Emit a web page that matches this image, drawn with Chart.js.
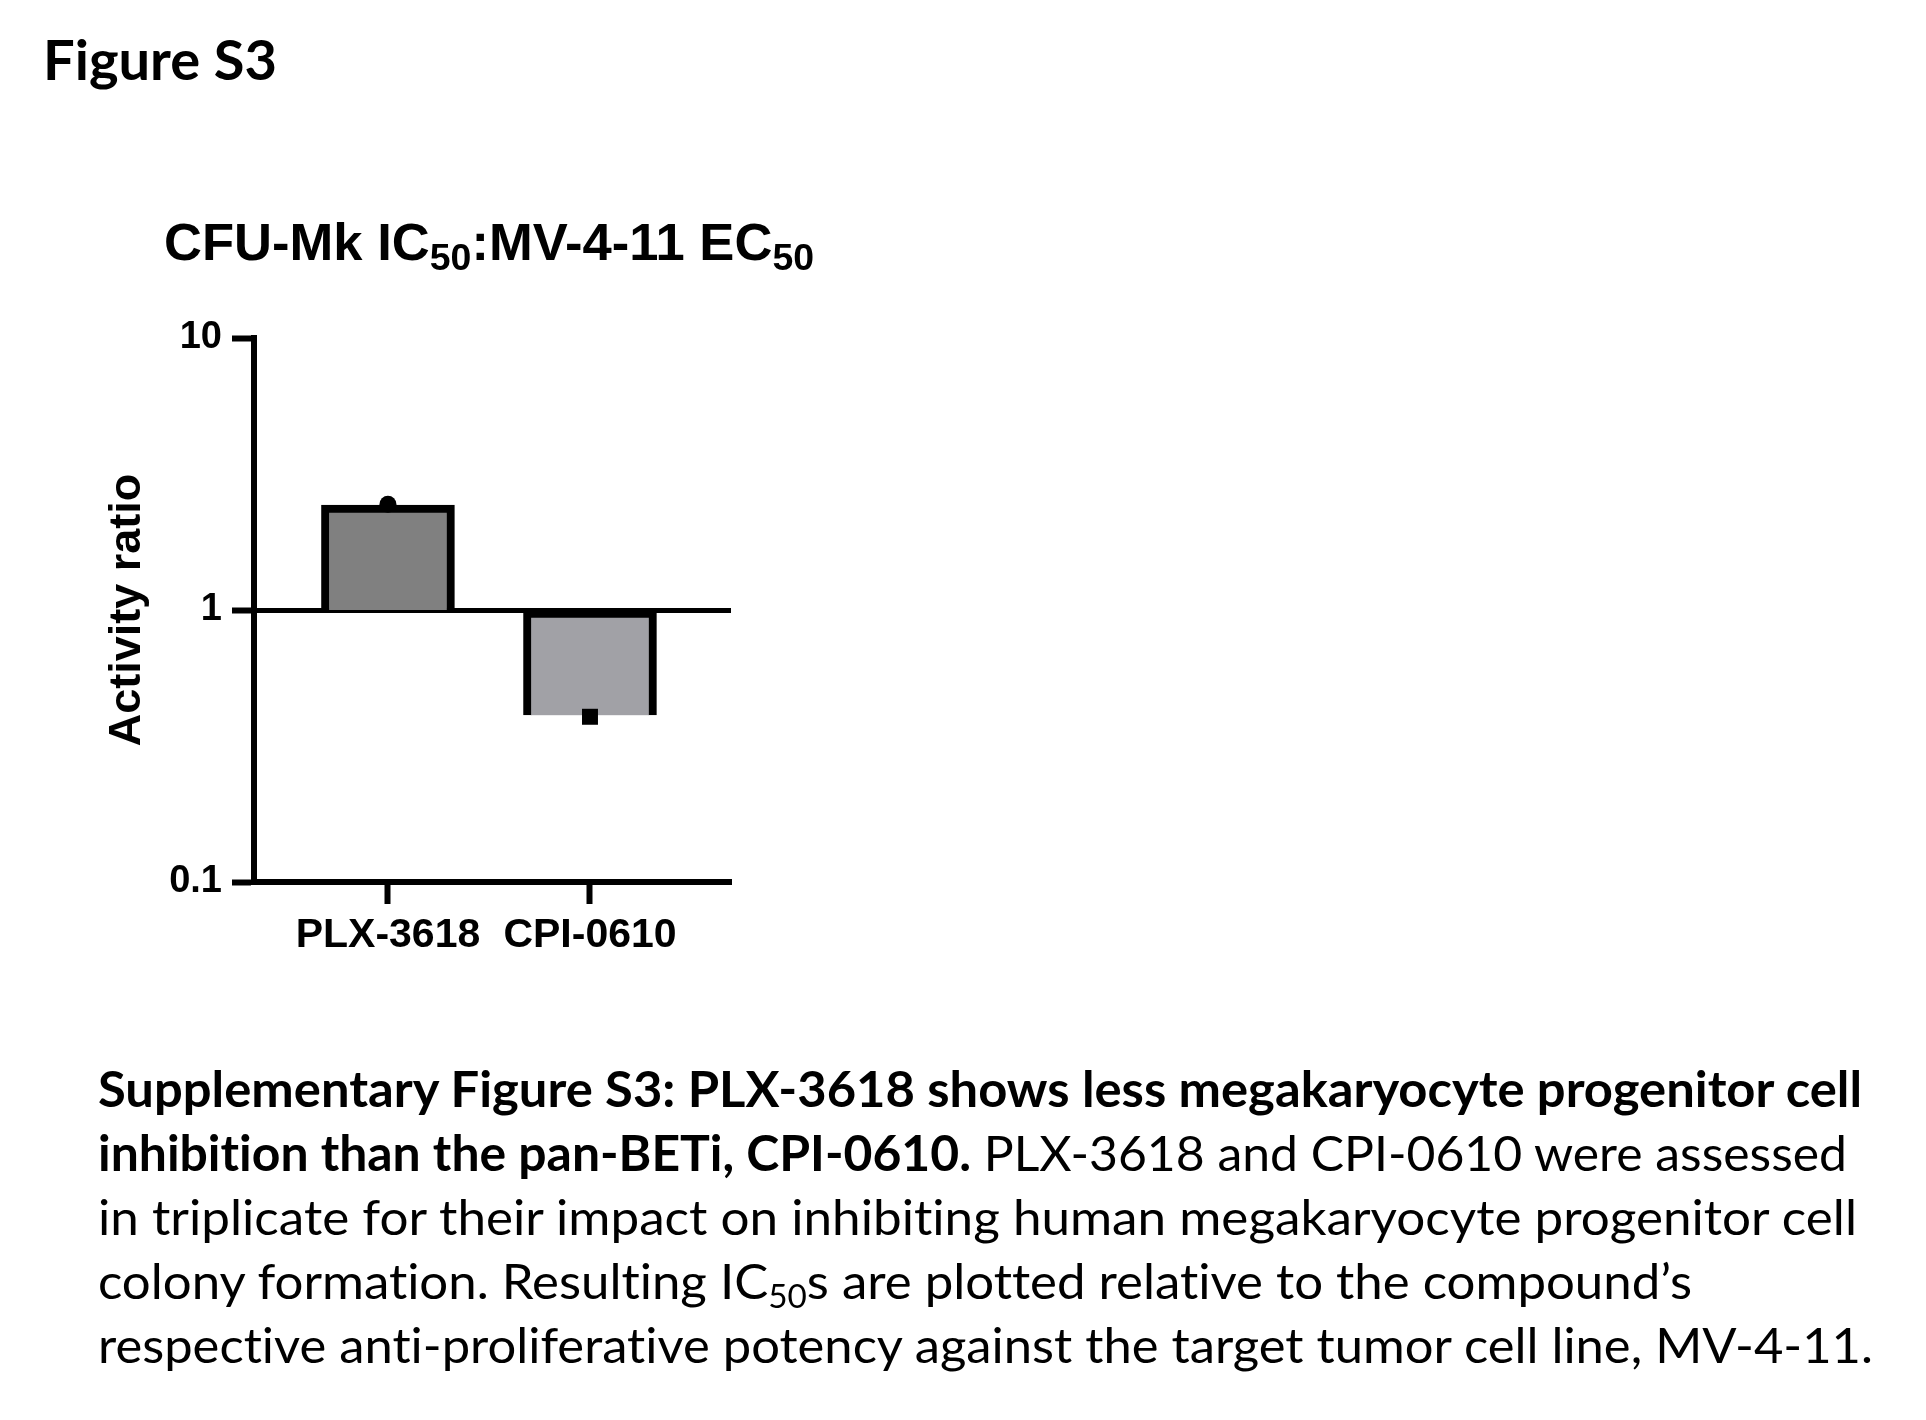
<!DOCTYPE html>
<html>
<head>
<meta charset="utf-8">
<title>Figure S3</title>
<script src="https://cdn.jsdelivr.net/npm/chart.js@4.4.1/dist/chart.umd.min.js"></script>
<style>
    html, body { margin: 0; padding: 0; background: #fff; }
    #page { position: relative; width: 1926px; height: 1420px; overflow: hidden; }
    #chart { position: absolute; left: 0; top: 0; }
    .txt { position: absolute; white-space: nowrap; transform-origin: 0 0; color: #000; line-height: 1; font-variant-ligatures: none; font-feature-settings: "liga" 0, "clig" 0; }
    .cal { font-family: Lato, "Open Sans", sans-serif; }
    .ari { font-family: "Liberation Sans", Arial, sans-serif; font-weight: bold; }
    b { font-weight: bold; }
</style>
</head>
<body>
<div id="page">
    <canvas id="chart" width="1926" height="1420"></canvas>

    <div class="txt cal" id="fig" style="font-size:56px;font-weight:bold">Figure S3</div>

    <div class="txt ari" id="ctitle" style="font-size:52px">CFU-Mk IC<span style="font-size:37px;vertical-align:-10px">50</span>:MV-4-11 EC<span style="font-size:37px;vertical-align:-10px">50</span></div>

    <div class="txt cal cap" style="font-size:49px"><b>Supplementary Figure S3: PLX-3618 shows less megakaryocyte progenitor cell</b></div>
    <div class="txt cal cap" style="font-size:49px"><b>inhibition than the pan-BETi, CPI-0610.</b> PLX-3618 and CPI-0610 were assessed</div>
    <div class="txt cal cap" style="font-size:49px">in triplicate for their impact on inhibiting human megakaryocyte progenitor cell</div>
    <div class="txt cal cap" style="font-size:49px">colony formation. Resulting IC<span style="font-size:32px;vertical-align:-9px">50</span>s are plotted relative to the compound’s</div>
    <div class="txt cal cap" style="font-size:49px">respective anti-proliferative potency against the target tumor cell line, MV-4-11.</div>
</div>

<script>
// 数据
const categories = ['PLX-3618', 'CPI-0610'];
const xPositions = [0, 1];
const ratioMeans = [2.43, 0.41];
const ratioPoints = [2.45, 0.405];
const yTicks = [0.1, 1, 10];
const yTickLabels = ['0.1', '1', '10'];
const barColors = ['#808080', '#a1a1a6'];
const pointShapes = ['circle', 'rect'];
const pointSizes = [8.5, 11.3];

const axisFont = 'Liberation Sans, Arial, sans-serif';

// 文字按基线摆放并拉伸到目标宽度
function place(el, left, baseline, right) {
    const mark = document.createElement('span');
    mark.style.cssText = 'display:inline-block;width:0;height:0;vertical-align:baseline';
    el.appendChild(mark);
    el.style.left = left + 'px';
    el.style.top = '0px';
    const w = el.getBoundingClientRect().width;
    el.style.top = (baseline - mark.offsetTop) + 'px';
    if (right) {
        el.style.transform = 'scaleX(' + ((right - left) / w) + ')';
    }
}

place(document.getElementById('fig'), 43, 80, 277);
place(document.getElementById('ctitle'), 164, 260, 814);

const capLines = document.querySelectorAll('.cap');
const capRight = [1862, 1847, 1857, 1692, 1873];
capLines.forEach((el, i) => {
    place(el, 98, 1107 + 64 * i, capRight[i]);
});

// 图表
const ctx = document.getElementById('chart');
new Chart(ctx, {
    type: 'bar',
    data: {
        datasets: [
            {
                type: 'scatter',
                data: ratioPoints.map((v, i) => ({ x: xPositions[i], y: v })),
                pointStyle: pointShapes,
                pointRadius: pointSizes,
                backgroundColor: '#000',
                borderWidth: 0,
                order: 0
            },
            {
                type: 'bar',
                data: ratioMeans.map((v, i) => ({ x: xPositions[i], y: [1, v] })),
                backgroundColor: barColors,
                borderColor: '#000',
                borderWidth: 8,
                borderSkipped: 'start',
                barThickness: 133,
                order: 1
            }
        ]
    },
    options: {
        responsive: false,
        animation: false,
        devicePixelRatio: 1,
        layout: {
            padding: { left: 0, top: 338, right: 1195, bottom: 438 }
        },
        plugins: {
            legend: { display: false },
            tooltip: { enabled: false }
        },
        scales: {
            x: {
                type: 'linear',
                min: -0.663,
                max: 1.698,
                offset: false,
                afterBuildTicks: s => { s.ticks = xPositions.map(v => ({ value: v })); },
                afterFit: s => { s.height = 100; },
                ticks: {
                    color: '#000',
                    padding: 7,
                    maxRotation: 0,
                    autoSkip: false,
                    font: { family: axisFont, weight: 'bold', size: 41 },
                    callback: (v, i) => categories[i]
                },
                grid: {
                    offset: false,
                    drawOnChartArea: false,
                    tickLength: 22,
                    tickWidth: 6,
                    tickColor: '#000'
                },
                border: { display: true, color: '#000', width: 6 }
            },
            y: {
                type: 'logarithmic',
                min: 0.1,
                max: 10,
                afterBuildTicks: s => { s.ticks = yTicks.map(v => ({ value: v })); },
                afterFit: s => { s.width = 254; },
                ticks: {
                    color: '#000',
                    padding: 10,
                    font: { family: axisFont, weight: 'bold', size: 38 },
                    callback: (v, i) => yTickLabels[i]
                },
                grid: {
                    color: c => (c.tick && c.tick.value === 1) ? '#000' : 'rgba(0,0,0,0)',
                    lineWidth: 5,
                    tickLength: 22,
                    tickWidth: 6,
                    tickColor: '#000'
                },
                border: { display: true, color: '#000', width: 6 },
                title: {
                    display: true,
                    text: 'Activity ratio',
                    color: '#000',
                    font: { family: axisFont, weight: 'bold', size: 45 },
                    padding: { top: 101, bottom: 0 }
                }
            }
        }
    }
});
</script>
</body>
</html>
